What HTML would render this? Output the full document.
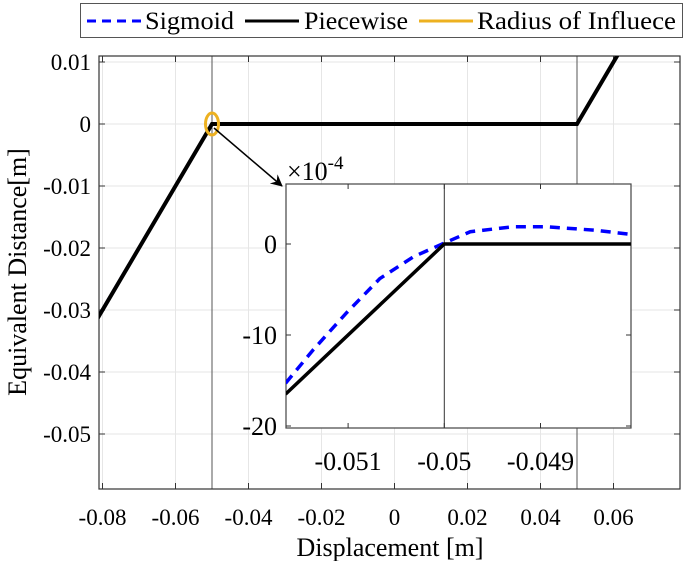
<!DOCTYPE html>
<html><head><meta charset="utf-8"><style>
body{margin:0;background:#fff;}
svg{display:block;font-family:"Liberation Serif",serif;}
</style></head><body>
<svg id="chart" width="685" height="561">
<defs>
<clipPath id="mainClip"><rect x="99" y="56" width="581" height="433"/></clipPath>
<clipPath id="insetClip"><rect x="286" y="184" width="345" height="244"/></clipPath>
<marker id="arrowhead" markerWidth="12" markerHeight="12" refX="11" refY="6" orient="auto" markerUnits="userSpaceOnUse"><path d="M0,0 L12,6 L0,12 L4,6 Z" fill="#000"/></marker>
</defs>
<g id="main"></g>
<g id="inset"></g>
<g id="legend">
<rect x="80.5" y="3.5" width="602" height="34" fill="#fff" stroke="#555" stroke-width="1"/>
<line x1="87" y1="21" x2="141" y2="21" stroke="#0000ff" stroke-width="3" stroke-dasharray="9,6"/>
<text x="145" y="29" font-size="25" textLength="89" lengthAdjust="spacingAndGlyphs">Sigmoid</text>
<line x1="245" y1="21" x2="299" y2="21" stroke="#000" stroke-width="3"/>
<text x="304" y="29" font-size="25" textLength="104" lengthAdjust="spacingAndGlyphs">Piecewise</text>
<line x1="419" y1="21" x2="473" y2="21" stroke="#edb120" stroke-width="3"/>
<text x="477" y="29" font-size="25" textLength="199" lengthAdjust="spacingAndGlyphs">Radius of Influece</text>
</g>
<text x="390" y="556" font-size="26" text-anchor="middle">Displacement [m]</text>
<text transform="translate(26,272) rotate(-90)" font-size="26" text-anchor="middle">Equivalent Distance[m]</text>
</svg>
<script>
const mainXTicks=[-0.08,-0.06,-0.04,-0.02,0,0.02,0.04,0.06];
const mainXTickLabels=["-0.08","-0.06","-0.04","-0.02","0","0.02","0.04","0.06"];
const mainYTicks=[0.01,0,-0.01,-0.02,-0.03,-0.04,-0.05];
const mainYTickLabels=["0.01","0","-0.01","-0.02","-0.03","-0.04","-0.05"];
const piecewiseX=[-0.0813,-0.05,0.05,0.0611];
const piecewiseY=[-0.0313,0,0,0.0111];
const sigmoidMainX=[-0.0813,-0.05,0.05,0.0611];
const sigmoidMainY=[-0.0312,0,0,0.0111];
const insetXTicks=[-0.051,-0.05,-0.049];
const insetXTickLabels=["-0.051","-0.05","-0.049"];
const insetYTicks=[0,-10,-20];
const insetYTickLabels=["0","-10","-20"];
const insetPieceX=[-0.05165,-0.05,-0.04806];
const insetPieceY=[-16.5,0,0];
const insetSigX=[-0.05165,-0.05136,-0.05102,-0.05067,-0.05032,-0.05,-0.04973,-0.04928,-0.04894,-0.04842,-0.04806];
const insetSigY=[-15.3,-11.6,-7.6,-3.8,-1.4,0.1,1.35,1.9,1.9,1.5,1.05];

const NS="http://www.w3.org/2000/svg";
function mk(tag,attrs,parent){const e=document.createElementNS(NS,tag);for(const k in attrs)e.setAttribute(k,attrs[k]);parent.appendChild(e);return e;}
const mx=v=>394.5+v*3650, my=v=>124-v*6200;
const main=document.getElementById('main');
const L=99,R=680,T=56,B=489;
mainXTicks.forEach(t=>{const g=mk('line',{x1:mx(t),x2:mx(t),y1:T,y2:B,stroke:'#e6e6e6','stroke-width':1},main);

});
mainYTicks.forEach(t=>{const g=mk('line',{x1:L,x2:R,y1:my(t),y2:my(t),stroke:'#e6e6e6','stroke-width':1},main);

});
[-0.05,0.05].forEach(t=>{const g=mk('line',{x1:mx(t),x2:mx(t),y1:T,y2:B,stroke:'#555','stroke-width':1},main);

});
const box=mk('rect',{x:L,y:T,width:R-L,height:B-T,fill:'none',stroke:'#333','stroke-width':1.2},main);


mainXTicks.forEach((t,i)=>{mk('line',{x1:mx(t),x2:mx(t),y1:B,y2:B-6,stroke:'#333'},main);mk('line',{x1:mx(t),x2:mx(t),y1:T,y2:T+6,stroke:'#333'},main);
const tx=mk('text',{x:mx(t),y:525,'font-size':23,'text-anchor':'middle'},main);tx.textContent=mainXTickLabels[i];

});
mainYTicks.forEach((t,i)=>{mk('line',{x1:L,x2:L+6,y1:my(t),y2:my(t),stroke:'#333'},main);mk('line',{x1:R,x2:R-6,y1:my(t),y2:my(t),stroke:'#333'},main);
const tx=mk('text',{x:91,y:my(t)+8,'font-size':23,'text-anchor':'end'},main);tx.textContent=mainYTickLabels[i];

});
const pts=(xs,ys,fx,fy)=>xs.map((x,i)=>fx(x)+','+fy(ys[i])).join(' ');
const ms=mk('polyline',{points:pts(sigmoidMainX,sigmoidMainY,mx,my),fill:'none',stroke:'#0000ff','stroke-width':3,'stroke-dasharray':'9,6','clip-path':'url(#mainClip)'},main);


const mp=mk('polyline',{points:pts(piecewiseX,piecewiseY,mx,my),fill:'none',stroke:'#000','stroke-width':4,'clip-path':'url(#mainClip)'},main);


const el=mk('ellipse',{cx:mx(-0.05),cy:my(0),rx:6.5,ry:11,fill:'none',stroke:'#edb120','stroke-width':3},main);


const ar=mk('line',{x1:mx(-0.05)+2,y1:my(0)+4,x2:282,y2:186,stroke:'#000','stroke-width':1.5,'marker-end':'url(#arrowhead)'},main);



const ins=document.getElementById('inset');
const ix=v=>444.3+(v+0.05)*96200, iy=v=>244-v*9.1;
const IL=286,IR=631,IT=184,IB=428;
const ibg=mk('rect',{x:IL,y:IT,width:IR-IL,height:IB-IT,fill:'#fff'},ins);


const vb=mk('line',{x1:ix(-0.05),x2:ix(-0.05),y1:IT,y2:IB,stroke:'#333','stroke-width':1},ins);


const ibox=mk('rect',{x:IL,y:IT,width:IR-IL,height:IB-IT,fill:'none',stroke:'#444','stroke-width':1.2},ins);


insetXTicks.forEach((t,i)=>{mk('line',{x1:ix(t),x2:ix(t),y1:IB,y2:IB-5,stroke:'#333'},ins);mk('line',{x1:ix(t),x2:ix(t),y1:IT,y2:IT+5,stroke:'#333'},ins);
const tx=mk('text',{x:ix(t),y:470,'font-size':26,'text-anchor':'middle'},ins);tx.textContent=insetXTickLabels[i];

});
insetYTicks.forEach((t,i)=>{mk('line',{x1:IL,x2:IL+5,y1:iy(t),y2:iy(t),stroke:'#333'},ins);mk('line',{x1:IR,x2:IR-5,y1:iy(t),y2:iy(t),stroke:'#333'},ins);
const tx=mk('text',{x:277,y:iy(t)+9,'font-size':26,'text-anchor':'end'},ins);tx.textContent=insetYTickLabels[i];

});
const ex=mk('text',{x:287,y:180,'font-size':26},ins);ex.innerHTML='×10<tspan dy="-11" font-size="19">-4</tspan>';


const is=mk('polyline',{points:pts(insetSigX,insetSigY,ix,iy),fill:'none',stroke:'#0000ff','stroke-width':3.5,'stroke-dasharray':'10,7','clip-path':'url(#insetClip)'},ins);


const ip=mk('polyline',{points:pts(insetPieceX,insetPieceY,ix,iy),fill:'none',stroke:'#000','stroke-width':3.5,'clip-path':'url(#insetClip)'},ins);


</script>
</body></html>
